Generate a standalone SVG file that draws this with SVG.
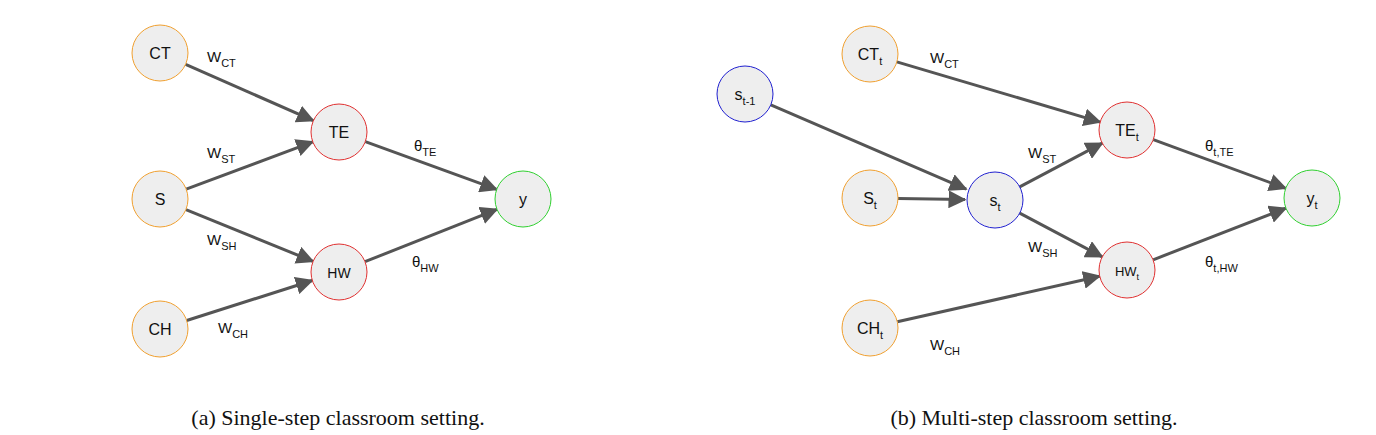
<svg xmlns="http://www.w3.org/2000/svg" width="1376" height="435" viewBox="0 0 1376 435">
<style>
.n{fill:#eeeeee;stroke-width:1}
.o{stroke:#f0a030}.r{stroke:#e03030}.g{stroke:#30d030}.b{stroke:#2020d0}
text{font-family:"Liberation Sans",Arial,sans-serif;fill:#111}
.nl{font-size:16px;text-anchor:middle}
.el{font-size:15px}
.s{font-size:11px}
.cap{font-family:"Liberation Serif","Times New Roman",serif;font-size:22px;text-anchor:middle}
#edges line{stroke:#555;stroke-width:3;marker-end:url(#ah)}
</style>
<defs>
<marker id="ah" markerWidth="6" markerHeight="6" refX="5.5" refY="3" orient="auto" markerUnits="strokeWidth" viewBox="0 0 6 6">
<path d="M0,0 L6,3 L0,6 Z" fill="#555"/>
</marker>
</defs>
<rect width="1376" height="435" fill="#fff"/>
<g id="edges">
<line x1="185.6" y1="64.3" x2="313.4" y2="120.7"/>
<line x1="186.2" y1="189.2" x2="312.8" y2="141.8"/>
<line x1="185.9" y1="209.6" x2="313.1" y2="261.4"/>
<line x1="186.7" y1="320.5" x2="312.3" y2="280.5"/>
<line x1="365.3" y1="141.6" x2="496.7" y2="189.4"/>
<line x1="365" y1="261.7" x2="497" y2="209.3"/>
<line x1="896.8" y1="61.9" x2="1100.2" y2="122.1"/>
<line x1="770.8" y1="104.9" x2="966.2" y2="189.1"/>
<line x1="898" y1="198.4" x2="965" y2="199.6"/>
<line x1="1019.7" y1="186.9" x2="1102.3" y2="143.1"/>
<line x1="1019.7" y1="213.1" x2="1102.3" y2="256.9"/>
<line x1="897.3" y1="321.8" x2="1099.7" y2="276.2"/>
<line x1="1153.3" y1="139.7" x2="1285.7" y2="188.3"/>
<line x1="1153.1" y1="259.8" x2="1285.9" y2="208.2"/>
</g>
<g id="edge-labels">
<text class="el" x="207" y="62">W<tspan class="s" dy="5">CT</tspan></text>
<text class="el" x="207" y="158">W<tspan class="s" dy="5">ST</tspan></text>
<text class="el" x="207" y="245">W<tspan class="s" dy="5">SH</tspan></text>
<text class="el" x="218" y="333">W<tspan class="s" dy="5">CH</tspan></text>
<text class="el" x="414" y="151">θ<tspan class="s" dy="5">TE</tspan></text>
<text class="el" x="412" y="267">θ<tspan class="s" dy="5">HW</tspan></text>
<text class="el" x="930" y="63">W<tspan class="s" dy="5">CT</tspan></text>
<text class="el" x="1028" y="158">W<tspan class="s" dy="5">ST</tspan></text>
<text class="el" x="1028" y="252">W<tspan class="s" dy="5">SH</tspan></text>
<text class="el" x="930" y="350">W<tspan class="s" dy="5">CH</tspan></text>
<text class="el" x="1205" y="151">θ<tspan class="s" dy="5">t,TE</tspan></text>
<text class="el" x="1205" y="267">θ<tspan class="s" dy="5">t,HW</tspan></text>
</g>
<g id="CT"><circle class="n o" cx="160" cy="53" r="28"/><text class="nl" x="160" y="59">CT</text></g>
<g id="S"><circle class="n o" cx="160" cy="199" r="28"/><text class="nl" x="160" y="205">S</text></g>
<g id="CH"><circle class="n o" cx="160" cy="329" r="28"/><text class="nl" x="160" y="335">CH</text></g>
<g id="TE"><circle class="n r" cx="339" cy="132" r="28"/><text class="nl" x="339" y="138">TE</text></g>
<g id="HW"><circle class="n r" cx="339" cy="272" r="28"/><text class="nl" x="339" y="278" style="font-size:14px">HW</text></g>
<g id="y"><circle class="n g" cx="523" cy="199" r="28"/><text class="nl" x="523" y="205">y</text></g>
<g id="CTt"><circle class="n o" cx="870" cy="54" r="28"/><text class="nl" x="870" y="60">CT<tspan class="s" dy="5">t</tspan></text></g>
<g id="st1"><circle class="n b" cx="745" cy="94" r="28"/><text class="nl" x="745" y="100">s<tspan class="s" dy="5">t-1</tspan></text></g>
<g id="St"><circle class="n o" cx="870" cy="198" r="28"/><text class="nl" x="870" y="204">S<tspan class="s" dy="5">t</tspan></text></g>
<g id="st"><circle class="n b" cx="995" cy="200" r="28"/><text class="nl" x="995" y="206">s<tspan class="s" dy="5">t</tspan></text></g>
<g id="CHt"><circle class="n o" cx="870" cy="328" r="28"/><text class="nl" x="870" y="334">CH<tspan class="s" dy="5">t</tspan></text></g>
<g id="TEt"><circle class="n r" cx="1127" cy="130" r="28"/><text class="nl" x="1127" y="136">TE<tspan class="s" dy="5">t</tspan></text></g>
<g id="HWt"><circle class="n r" cx="1127" cy="270" r="28"/><text class="nl" x="1127" y="276" style="font-size:13px">HW<tspan class="s" dy="4" style="font-size:9px">t</tspan></text></g>
<g id="yt"><circle class="n g" cx="1312" cy="198" r="28"/><text class="nl" x="1312" y="204">y<tspan class="s" dy="5">t</tspan></text></g>
<text class="cap" x="338" y="425">(a) Single-step classroom setting.</text>
<text class="cap" x="1034" y="425">(b) Multi-step classroom setting.</text>
</svg>
